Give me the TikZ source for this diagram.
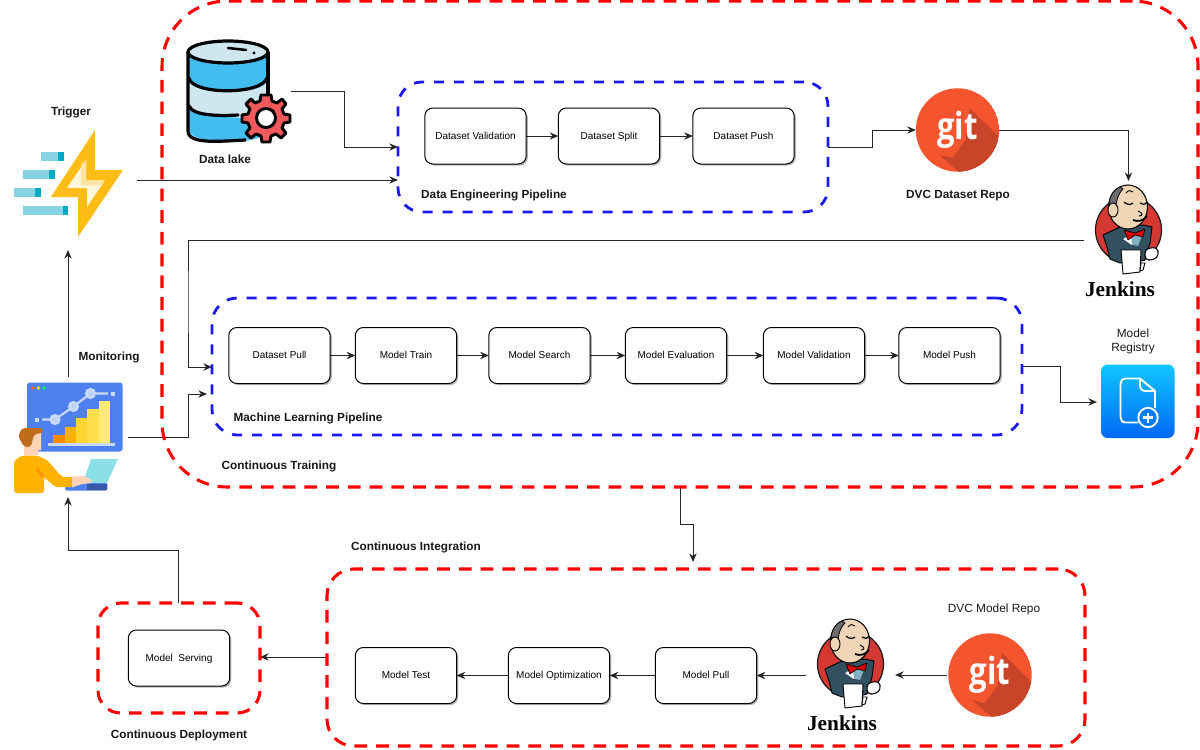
\documentclass[tikz,border=0pt]{standalone}
\usepackage{fontspec}
\setmainfont{Liberation Sans}
\newfontfamily\gitfont{Open Sans}
\newfontfamily\jenkfont{Liberation Serif}
\usetikzlibrary{arrows.meta,shadows,calc}
\pgfdeclarelayer{bg}
\pgfsetlayers{bg,main}
\definecolor{frameRed}{HTML}{FF0000}
\definecolor{frameBlue}{HTML}{1A1AF0}
\definecolor{gitOrange}{HTML}{F4552F}
\definecolor{gitShade}{HTML}{C8452A}
\definecolor{lakeBlue}{HTML}{42BDF0}
\definecolor{lakePale}{HTML}{CFE6EF}
\definecolor{gearRed}{HTML}{F2595A}
\definecolor{boltAmber}{HTML}{FFBC14}
\definecolor{boltCream}{HTML}{FFF6DC}
\definecolor{boltMid}{HTML}{FFE3A0}
\definecolor{barPale}{HTML}{88D3E2}
\definecolor{barDark}{HTML}{00A9C4}
\definecolor{screenBlue}{HTML}{4F80F0}
\definecolor{lineBlue}{HTML}{C9DAFB}
\definecolor{skin}{HTML}{FFD3B6}
\definecolor{hairBrown}{HTML}{BF6C1D}
\definecolor{bodyAmber}{HTML}{FFB300}
\definecolor{lapCyan}{HTML}{8BDFE6}
\definecolor{jkRed}{HTML}{D33833}
\definecolor{jkJacket}{HTML}{335061}
\definecolor{jkFace}{HTML}{F0D6B7}
\definecolor{jkHair}{HTML}{6D6B6D}
\definecolor{jkShirt}{HTML}{81B0C4}
\definecolor{regTop}{HTML}{10C6FF}
\definecolor{regBot}{HTML}{0068F5}
\tikzset{
  x=0.75pt,y=-0.75pt,
  every node/.style={outer sep=0pt,inner sep=0pt},
  proc/.style={draw=black,line width=0.75pt,fill=white,rounded corners=6pt,
    minimum width=76pt,minimum height=42pt,align=center,
    text height=6.5pt,text depth=1.5pt,
    font=\fontsize{7.5}{9}\selectfont,
    drop shadow={shadow xshift=1.2pt,shadow yshift=-1.2pt,fill=black,opacity=0.3}},
  lbl/.style={font=\fontsize{8.85}{11}\selectfont\bfseries,text=black!90,yshift=-1.2pt},
  lblr/.style={font=\fontsize{8.9}{10.5}\selectfont,align=center,text=black!90,yshift=-1.2pt},
  redframe/.style={draw=frameRed,line width=2.3pt,dash pattern=on 9.5pt off 6.8pt},
  blueframe/.style={draw=frameBlue,line width=2.1pt,dash pattern=on 7.5pt off 7.5pt},
  conn/.style={draw=black!85,line width=0.75pt,-{Stealth[length=6.5pt,width=5.5pt]}},
  hole/.style={minimum size=1pt},
}
\newcommand{\gitlogo}[2]{%
  \begin{scope}[shift={(#1,#2)}]
    \begin{scope}
      \clip (0,0) circle [radius=41.7];
      \fill[gitOrange] (0,0) circle [radius=41.7];
      \fill[gitShade] (-18,25) -- (-5,28) -- (8,10) -- (12,-22) -- (45,10) -- (45,45) -- (5,45) -- cycle;
    \end{scope}
    \node[text=white,font=\fontsize{28}{28}\gitfont\bfseries,xscale=0.83,transform shape] at (0,-0.5) {git};
  \end{scope}}
\newcommand{\jenkinslogo}[2]{%
  \begin{scope}[shift={(#1,#2)},line join=round]
    \filldraw[fill=jkRed,draw=black!90,line width=0.9pt] (0.5,-3) circle [radius=33];
    \filldraw[fill=jkJacket,draw=black,line width=0.7pt] (-25,2) -- (-8,-6) -- (15,-8) -- (24,-6) -- (22,10) -- (17,27) -- (10,29) -- (-8,30) -- (-18,26) -- (-21,14) -- cycle;
    \fill[jkShirt] (-4,5) -- (5,1) -- (15,0) -- (10,13) -- (2,11) -- cycle;
    \fill[white] (-5,6) -- (3,3) -- (4,12) -- cycle;
    \filldraw[fill=jkFace,draw=black,line width=0.8pt] (0,-26) ellipse [x radius=19.5,y radius=22];
    \filldraw[fill=jkHair,draw=black,line width=0.6pt] (-8,-46) .. controls (-16,-43) and (-20,-34) .. (-19,-22) -- (-13,-20) .. controls (-12,-30) and (-11,-38) .. (-5,-44) -- cycle;
    \filldraw[fill=jkFace,draw=black,line width=0.7pt] (-15,-23) ellipse [x radius=5,y radius=7];
    \draw[line width=0.9pt] (-4,-31) .. controls (-1,-28) and (3,-28) .. (5,-30);
    \draw[line width=0.9pt] (12,-30) .. controls (14,-28) and (17,-28) .. (19,-31);
    \draw[line width=0.7pt] (-2,-40) .. controls (0,-43) and (3,-43) .. (5,-41);
    \draw[line width=0.7pt] (10,-22) .. controls (15,-20) and (15,-17) .. (11,-17);
    \draw[line width=1.3pt] (5,-13) .. controls (10,-11) and (15,-12) .. (19,-17);
    \filldraw[fill=frameRed!85!black,draw=black,line width=0.5pt] (-4,-3) -- (7,0) -- (17,-4) -- (15,4) -- (7,2) -- (0,7) -- cycle;
    \filldraw[fill=white,draw=black,line width=0.7pt] (-7,17) -- (13,17) -- (12,39) -- (-5,41) -- cycle;
    \filldraw[fill=white,draw=black,line width=0.7pt] (13,30) -- (17,30) -- (15,37) -- (12,38) -- cycle;
    \filldraw[fill=white,draw=black,line width=0.8pt,rounded corners=3pt] (17,16) -- (29,14) -- (31,22) -- (26,27) -- (17,27) -- cycle;
    \node[font=\fontsize{16}{18}\jenkfont\bfseries] at (-8,56.5) {Jenkins};
  \end{scope}}
\begin{document}
\begin{tikzpicture}
\useasboundingbox (0,0) rectangle (1200,750);
\begin{pgfonlayer}{bg}
\fill[white] (0,0) rectangle (1200,750);
\end{pgfonlayer}

% ---- frames
\node[redframe,rounded corners=49pt,minimum width=777pt,minimum height=364.5pt] (ct) at (680,244) {};
\node[blueframe,rounded corners=18pt,minimum width=322.5pt,minimum height=97.5pt] (dep) at (613,147) {};
\node[blueframe,rounded corners=19pt,minimum width=607.5pt,minimum height=102.75pt] (mlp) at (617,366.5) {};
\node[redframe,rounded corners=20pt,minimum width=568.5pt,minimum height=132.75pt] (ci) at (706,657.5) {};
\node[redframe,rounded corners=17pt,minimum width=121.5pt,minimum height=82.5pt] (cd) at (179,658) {};

% ---- process boxes
\node[proc] (dv) at (475.5,136) {Dataset Validation};
\node[proc] (ds) at (609,136) {Dataset Split};
\node[proc] (dp) at (743.5,136) {Dataset Push};

\node[proc] (p1) at (279.5,355.5) {Dataset Pull};
\node[proc] (p2) at (406,355.5) {Model Train};
\node[proc] (p3) at (539.5,355.5) {Model Search};
\node[proc] (p4) at (676,355.5) {Model Evaluation};
\node[proc] (p5) at (814,355.5) {Model Validation};
\node[proc] (p6) at (949.5,355.5) {Model Push};

\node[proc] (c3) at (406,675.5) {Model Test};
\node[proc] (c2) at (559,675.5) {Model Optimization};
\node[proc] (c1) at (706,675.5) {Model Pull};
\node[proc] (sv) at (179,658) {Model\ \ Serving};

% ---- data lake icon
\begin{scope}[line width=2.4pt,line join=round]
  \fill[lakeBlue] (189,52) -- (189,130) .. controls (189,146) and (267,146) .. (267,130) -- (267,52) -- cycle;
  \fill[lakePale] (189,80) .. controls (189,96) and (267,96) .. (267,80) -- (267,103) -- (189,103) -- cycle;
  \fill[lakePale] (189,103) -- (267,103) -- (267,120) -- (230,117) .. controls (210,117) and (189,114) .. (189,103) -- cycle;
  \filldraw[fill=lakePale,draw=black] (228,52) ellipse [x radius=40,y radius=11];
  \draw (188,52) -- (188,131) .. controls (188,145) and (222,141) .. (246,140);
  \draw (268,52) -- (268,102);
  \draw[line cap=round] (189,78) .. controls (192,95) and (262,95) .. (267,78);
  \draw[line cap=round] (189,106) .. controls (193,116) and (220,116) .. (238,115);
  \draw[line cap=round,line width=1.9pt] (228,48) -- (246,50);
  \fill (254,53) circle [radius=1.7];
\end{scope}
\node[hole,minimum width=78pt,minimum height=84pt] (lake) at (239,91) {};
% gear
\begin{scope}[shift={(266,118)}]
  \filldraw[fill=gearRed,draw=black,line width=2.2pt,line join=round]
   (-5,-23) -- (5,-23) -- (6,-17) -- (11,-15) -- (16,-19) -- (20,-14) -- (16,-9) -- (18,-4) -- (24,-3) -- (24,4) -- (18,5) -- (16,10) -- (20,15) -- (15,20) -- (10,16) -- (5,18) -- (4,24) -- (-4,24) -- (-5,18) -- (-10,16) -- (-15,20) -- (-20,15) -- (-16,10) -- (-18,5) -- (-24,4) -- (-24,-3) -- (-18,-4) -- (-16,-9) -- (-20,-14) -- (-15,-19) -- (-11,-15) -- (-6,-17) -- cycle;
  \filldraw[fill=white,draw=black,line width=2.2pt] (0,0) circle [radius=9.5];
  \fill (7,-7) circle [radius=1.8];
\end{scope}
\node[lbl] (lakeL) at (225,158) {Data lake};

% ---- trigger icon
\fill[boltAmber] (95,130) -- (95,170) -- (123,170) -- (78,237) -- (78,197) -- (51,197) -- cycle;
\fill[boltCream] (86,160) -- (86,180) -- (105,180) -- (87,207) -- (87,188) -- (67,188) -- cycle;
\fill[boltMid] (81,165) -- (86,160) -- (86,180) -- (105,180) -- (102,185) -- (81,185) -- cycle;
\fill[barPale] (41,152) rectangle (58,161);
\fill[barDark] (58,152) rectangle (64,161);
\fill[barPale] (23,170) rectangle (49,179);
\fill[barDark] (49,170) rectangle (55,179);
\fill[barPale] (14,188) rectangle (35,197);
\fill[barDark] (35,188) rectangle (41,197);
\fill[barPale] (23,206) rectangle (63,215);
\fill[barDark] (63,206) rectangle (68,215);
\node[hole,minimum width=82pt,minimum height=80pt] (trig) at (68.5,183.5) {};
\node[lbl] (trigL) at (71,111) {Trigger};

% ---- monitoring icon
\fill[screenBlue,rounded corners=2pt] (27,382.5) rectangle (122.5,451.5);
\fill[orange!80!red] (33,388) circle [radius=1.8];
\fill[yellow!80!orange] (38.5,388) circle [radius=1.8];
\fill[green!70!cyan] (44,388) circle [radius=1.8];
\fill[white!70!screenBlue] (48,442.5) rectangle (115,446);
\fill[orange!90!yellow] (53,435) rectangle (65,442.5);
\fill[bodyAmber] (65,427) rectangle (76,442.5);
\fill[bodyAmber!70!yellow!80!white] (76,418) rectangle (87,442.5);
\fill[bodyAmber!60!yellow!70!white] (87,409) rectangle (98.5,442.5);
\fill[bodyAmber!50!yellow!55!white] (98.5,401) rectangle (110,442.5);
\draw[lineBlue,line width=1.6pt] (42,419.5) -- (55,419.5) -- (73.5,406.5) -- (90.5,393.5) -- (108,393.5);
\fill[lineBlue] (34.5,417.5) rectangle (38.5,421.5);
\fill[lineBlue] (111,391.5) rectangle (115,395.5);
\foreach \cx/\cy in {55/419.5,73.5/406.5,90.5/393.5}{
  \fill[lineBlue] (\cx,\cy) circle [radius=5.6];
  \fill[white!60!screenBlue!50!lineBlue] (\cx,\cy) circle [radius=2.6];
}
% person
\fill[lapCyan] (91,459) -- (118,459) -- (107,483) -- (83,483) -- cycle;
\fill[screenBlue,rounded corners=1.5pt] (65,486) rectangle (107.5,490.5);
\fill[screenBlue,rounded corners=1.5pt] (72,483) rectangle (107.5,488);
\fill[screenBlue!70!black] (87,483.5) rectangle (107,489.5);
\fill[skin] (24,445) -- (38,442) -- (38,455) -- (24,455) -- cycle;
\fill[skin] (30,432) -- (41,432) -- (41,450) -- (33,451) -- (30,445) -- cycle;
\fill[hairBrown,rounded corners=2.5pt] (22,428) -- (43,428) -- (43,433) -- (34,434) -- (31,447) -- (24,447) -- (18,436) -- cycle;
\fill[bodyAmber,rounded corners=2pt] (14,493) -- (14,461) -- (22,455.5) -- (37,455.5) -- (47,460) -- (62,477) -- (73,477) -- (73,487) -- (55,487) -- (44,477) -- (44,493) -- cycle;
\fill[skin] (72,476.5) -- (84,476) -- (92,480) -- (91,483) -- (82,484) -- (72,487.5) -- cycle;
\draw[orange!85!yellow,line width=2.2pt,line cap=round] (37,469) -- (43,476);
\node[hole,minimum width=80pt,minimum height=90pt] (mon) at (68,437) {};
\node[lbl] (monL) at (109,356) {Monitoring};

% ---- git logos
\gitlogo{957.5}{130}
\node[hole,minimum width=62.5pt,minimum height=62.5pt] (gitA) at (957.5,130) {};
\gitlogo{990}{675}
\node[hole,minimum width=62.5pt,minimum height=62.5pt] (gitB) at (990,675) {};

% ---- jenkins logos
\jenkinslogo{1128}{233}
\node[hole,minimum width=66pt,minimum height=78pt] (jkA) at (1128.5,233) {};
\jenkinslogo{850}{667}
\node[hole,minimum width=66pt,minimum height=78pt] (jkB) at (850,667) {};

% ---- registry icon
\begin{scope}
  \shade[top color=regTop,bottom color=regBot,rounded corners=5pt] (1101,364.5) rectangle (1174.5,438);
  \draw[white,line width=1.4pt,line join=round] (1155,408) -- (1155,391) -- (1140,378.5) -- (1126,378.5) .. controls (1122,378.5) and (1120.5,381) .. (1120.5,384) -- (1120.5,417) .. controls (1120.5,420) and (1122,422.5) .. (1126,422.5) -- (1138,422.5);
  \draw[white,line width=1.4pt,line join=round] (1140,378.5) -- (1140,385) .. controls (1140,389) and (1142,391) .. (1146,391) -- (1155,391);
  \filldraw[fill=regBot!80!regTop,draw=white,line width=1.4pt] (1148,417.5) circle [radius=9.7];
  \draw[white,line width=1.6pt] (1143,417.5) -- (1153,417.5);
  \draw[white,line width=1.6pt] (1148,412.5) -- (1148,422.5);
\end{scope}
\node[hole,minimum width=55pt,minimum height=55pt] (reg) at (1137.5,401.5) {};

% ---- labels
\node[lbl] (l1) at (494,194) {Data Engineering Pipeline};
\node[lbl] (l2) at (958,194) {DVC Dataset Repo};
\node[lbl] (l3) at (308,417) {Machine Learning Pipeline};
\node[lbl] (l4) at (279,465) {Continuous Training};
\node[lbl] (l5) at (416,546) {Continuous Integration};
\node[lbl] (l6) at (179,734) {Continuous Deployment};
\node[lblr] (l7) at (994,608) {DVC Model Repo};
\node[lblr] (l8) at (1133,340) {Model\\Registry};

% ---- named free ends
\coordinate (mlIn1) at (212,367);
\coordinate (mlIn2) at (207,394);
\coordinate (depIn1) at (398,147);
\coordinate (depIn2) at (398,180);
\coordinate (trigOut) at (137,180);
\coordinate (lakeOut) at (291,91);
\coordinate (monOut) at (128,437);
\coordinate (jkOut) at (1084,240);
\coordinate (hubX) at (188,300);
\coordinate (regIn) at (1097,402);
\coordinate (mlOut) at (1022,366);
\coordinate (ctOut) at (680,487);
\coordinate (ciIn) at (693,562);
\coordinate (ciOut) at (328,657);
\coordinate (cdIn) at (260,657);
\coordinate (cdOut) at (178,603);
\coordinate (monIn) at (68,497);
\coordinate (monUp) at (68,377);
\coordinate (trigIn) at (68,250);
\coordinate (gitBOut) at (947,675);
\coordinate (jkBIn) at (895,675);
\coordinate (jkBOut) at (806,675.5);

% ---- connectors
\begin{pgfonlayer}{bg}
\draw[conn] (lakeOut) -- (344,91) -- (344,147) -- (depIn1);
\draw[conn] (trigOut) -- (depIn2);
\draw[conn] (dv) -- (ds);
\draw[conn] (ds) -- (dp);
\draw[conn] (dep.east) -- (872,147) |- (gitA.west);
\draw[conn] (gitA.east) -| (jkA.north);
\draw[conn] (jkOut) -| (hubX) |- (mlIn1);
\draw[conn] (monOut) -- (188,437) |- (mlIn2);
\draw[conn] (monUp) -- (trigIn);
\draw[conn] (p1) -- (p2);
\draw[conn] (p2) -- (p3);
\draw[conn] (p3) -- (p4);
\draw[conn] (p4) -- (p5);
\draw[conn] (p5) -- (p6);
\draw[conn] (mlOut) -- (1060,366) |- (regIn);
\draw[conn] (ctOut) -- (680,524) -- (693,524) -- (ciIn);
\draw[conn] (gitBOut) -- (jkBIn);
\draw[conn] (jkBOut) -- (c1);
\draw[conn] (c1) -- (c2);
\draw[conn] (c2) -- (c3);
\draw[conn] (ciOut) -- (cdIn);
\draw[conn] (cdOut) -- (178,550) -| (monIn);
\end{pgfonlayer}
\end{tikzpicture}
\end{document}
